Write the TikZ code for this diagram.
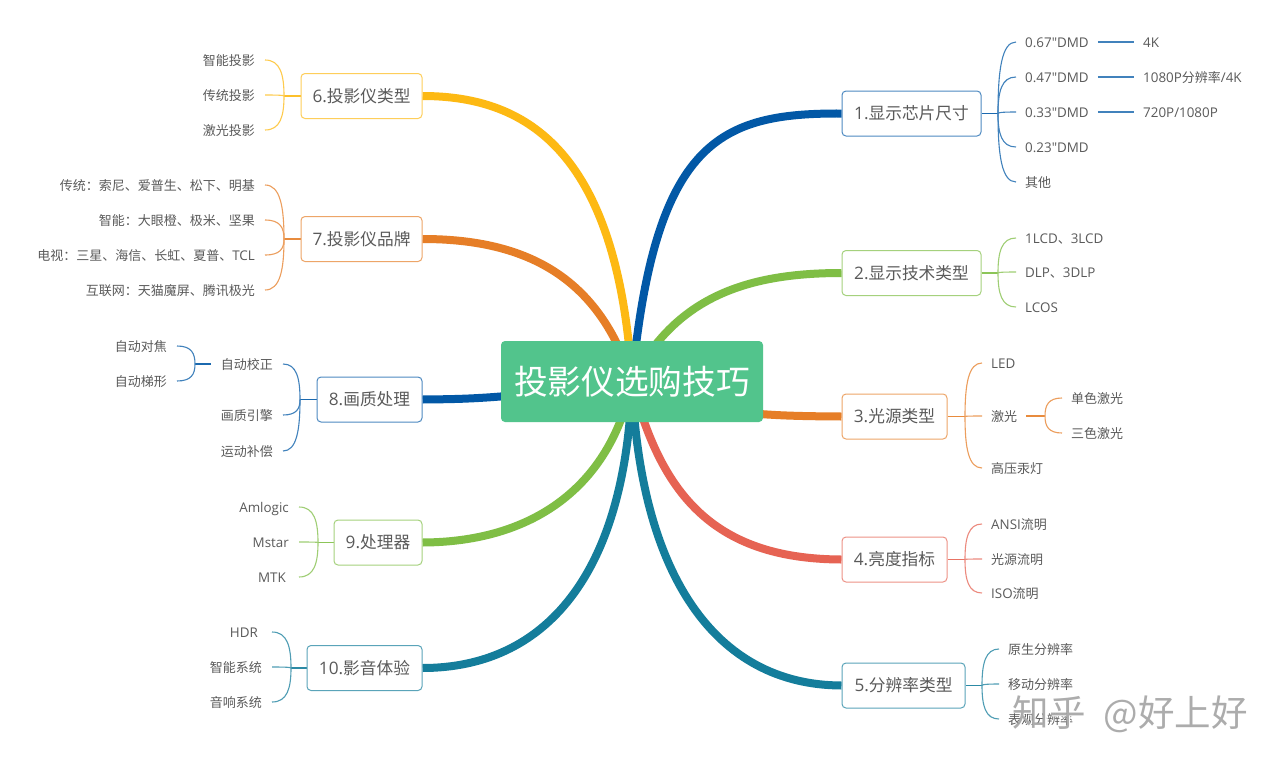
\documentclass[tikz,border=0pt]{standalone}
\usepackage{fontspec}
\setmainfont{Noto Sans CJK SC}
\newfontfamily\lat[Scale=1.03]{Open Sans}
\usetikzlibrary{calc,backgrounds}
\definecolor{cblue}{HTML}{0258A6}
\definecolor{cgreen}{HTML}{7FBE45}
\definecolor{corange}{HTML}{E67E27}
\definecolor{cred}{HTML}{E66353}
\definecolor{cteal}{HTML}{147D9B}
\definecolor{cyellow}{HTML}{FDB913}
\definecolor{cmain}{HTML}{52C48C}
\definecolor{ctext}{HTML}{5A5A5A}
\tikzset{
  x=1pt,y=-1pt,
  box/.style={draw=#1!70!white,fill=white,line width=1pt,rounded corners=4pt,minimum height=45pt,inner sep=0pt,
    text=ctext,font=\fontsize{16.7}{20}\selectfont},
  rleaf/.style={anchor=west,inner xsep=9pt,inner ysep=0pt,text height=12.4pt,text depth=1pt,text=ctext,font=\fontsize{13}{15}\selectfont},
  lleaf/.style={anchor=east,inner xsep=10pt,inner ysep=0pt,text height=12.4pt,text depth=1pt,text=ctext,font=\fontsize{13}{15}\selectfont},
  fk/.style={to path={.. controls ($(\tikztostart)!.6!(\tikztostart |- \tikztotarget)$) and ($(\tikztostart |- \tikztotarget)!.2!(\tikztotarget)$) .. (\tikztotarget)}},
  thin1/.style={draw=#1!75!white,line width=1.1pt},
  trunk/.style={draw=#1!90!white,line width=1.4pt},
  thick1/.style={draw=#1,line width=8pt},
}
\begin{document}
\begin{tikzpicture}
\useasboundingbox (0,0) rectangle (1280,763);
% centre
\node[fill=cmain,rounded corners=4pt,minimum width=262pt,minimum height=81pt,inner sep=0pt,text=white,font=\fontsize{33.7}{40}\selectfont] (c) at (632,381.5) {投影仪选购技巧};
% branch boxes
\node[box=cblue,minimum width=139pt] (b1) at (911.5,113.5) {{\lat 1.}显示芯片尺寸};
\node[box=cgreen,minimum width=139pt] (b2) at (911.5,273) {{\lat 2.}显示技术类型};
\node[box=corange,minimum width=105pt] (b3) at (894.5,416.5) {{\lat 3.}光源类型};
\node[box=cred,minimum width=105pt] (b4) at (894.5,559.5) {{\lat 4.}亮度指标};
\node[box=cteal,minimum width=123pt] (b5) at (903.5,685.5) {{\lat 5.}分辨率类型};
\node[box=cyellow,minimum width=121pt] (b6) at (361.5,96) {{\lat 6.}投影仪类型};
\node[box=corange,minimum width=121pt] (b7) at (361.5,239) {{\lat 7.}投影仪品牌};
\node[box=cblue,minimum width=105pt] (b8) at (369.5,399.5) {{\lat 8.}画质处理};
\node[box=cgreen,minimum width=88pt] (b9) at (378,542.5) {{\lat 9.}处理器};
\node[box=cteal,minimum width=115pt] (b10) at (364.5,668) {{\lat 10.}影音体验};
% forks
\coordinate (f1) at (998,113.5);
\coordinate (f2) at (998,273);
\coordinate (f3) at (965,416.5);
\coordinate (f3a) at (1045,416);
\coordinate (f4) at (965,559.5);
\coordinate (f5) at (982,685.5);
\coordinate (f6) at (284,96);
\coordinate (f7) at (284,239);
\coordinate (f8) at (300,399.5);
\coordinate (f8a) at (195,364);
\coordinate (f9) at (318,542.5);
\coordinate (f10) at (291,668);
% leaves 1
\node[rleaf] (l11) at (1016,42) {{\lat 0.67"DMD}};
\node[rleaf] (l12) at (1016,77) {{\lat 0.47"DMD}};
\node[rleaf] (l13) at (1016,112) {{\lat 0.33"DMD}};
\node[rleaf] (l14) at (1016,147) {{\lat 0.23"DMD}};
\node[rleaf] (l15) at (1016,182) {其他};
\node[rleaf] (s11) at (1134,42) {{\lat 4K}};
\node[rleaf] (s12) at (1134,77) {{\lat 1080P}分辨率{\lat /4K}};
\node[rleaf] (s13) at (1134,112) {{\lat 720P/1080P}};
% leaves 2
\node[rleaf] (l21) at (1016,238) {{\lat 1LCD}、{\lat 3LCD}};
\node[rleaf] (l22) at (1016,272) {{\lat DLP}、{\lat 3DLP}};
\node[rleaf] (l23) at (1016,307) {{\lat LCOS}};
% leaves 3
\node[rleaf] (l31) at (982,363) {{\lat LED}};
\node[rleaf] (l32) at (982,416) {激光};
\node[rleaf] (l33) at (982,468) {高压汞灯};
\node[rleaf] (s31) at (1062,398) {单色激光};
\node[rleaf] (s32) at (1062,433) {三色激光};
% leaves 4
\node[rleaf] (l41) at (982,524) {{\lat ANSI}流明};
\node[rleaf] (l42) at (982,559) {光源流明};
\node[rleaf] (l43) at (982,593) {{\lat ISO}流明};
% leaves 5
\node[rleaf] (l51) at (999,649) {原生分辨率};
\node[rleaf] (l52) at (999,684) {移动分辨率};
\node[rleaf] (l53) at (999,719) {表观分辨率};
% leaves 6
\node[lleaf] (l61) at (265,60) {智能投影};
\node[lleaf] (l62) at (265,95) {传统投影};
\node[lleaf] (l63) at (265,130) {激光投影};
% leaves 7
\node[lleaf] (l71) at (265,185) {传统：索尼、爱普生、松下、明基};
\node[lleaf] (l72) at (265,220) {智能：大眼橙、极米、坚果};
\node[lleaf] (l73) at (265,255) {电视：三星、海信、长虹、夏普、{\lat TCL}};
\node[lleaf] (l74) at (265,290) {互联网：天猫魔屏、腾讯极光};
% leaves 8
\node[lleaf] (l81) at (283,364) {自动校正};
\node[lleaf] (l82) at (283,415) {画质引擎};
\node[lleaf] (l83) at (283,451) {运动补偿};
\node[lleaf] (s81) at (177,346) {自动对焦};
\node[lleaf] (s82) at (177,381) {自动梯形};
% leaves 9
\node[lleaf] (l91) at (299,507) {{\lat Amlogic}};
\node[lleaf] (l92) at (299,542) {{\lat Mstar}};
\node[lleaf,inner xsep=13pt] (l93) at (299,577) {{\lat MTK}};
% leaves 10
\node[lleaf,inner xsep=14pt] (l101) at (272,632) {{\lat HDR}};
\node[lleaf] (l102) at (272,667) {智能系统};
\node[lleaf] (l103) at (272,702) {音响系统};
% watermark
\node[inner sep=0pt,text=white,font=\fontsize{36.5}{40}\selectfont,anchor=east] (wms) at (1249,715.5) {知乎\hspace{10pt} @好上好};
\node[inner sep=0pt,text=black!38,opacity=.85,font=\fontsize{36.5}{40}\selectfont,anchor=east] (wm) at (1248,714) {知乎\hspace{10pt} @好上好};
% connectors
\begin{scope}[on background layer]
\fill[white] (0,0) rectangle (1280,763);
\draw[thick1=cteal] (c.center) .. controls (626,575) and (545,668) .. (b10.east);
\draw[thick1=cteal] (c.center) .. controls (640,575) and (715,685) .. (b5.west);
\draw[thick1=cred] (c.center) .. controls (660,490) and (710,559) .. (b4.west);
\draw[thick1=cgreen] (c.center) .. controls (612,480) and (540,542) .. (b9.east);
\draw[thick1=cblue] (c.center) .. controls (500,399) and (470,399) .. (b8.east);
\draw[thick1=corange] (c.center) .. controls (700,414) and (760,416) .. (b3.west);
\draw[thick1=corange] (c.center) .. controls (600,280) and (530,239) .. (b7.east);
\draw[thick1=cyellow] (c.center) .. controls (618,155) and (530,96) .. (b6.east);
\draw[thick1=cblue] (c.center) .. controls (655,140) and (720,113) .. (b1.west);
\draw[thick1=cgreen] (c.center) .. controls (675,298) and (745,273) .. (b2.west);
% 1
\draw[trunk=cblue] (b1.east) -- (f1);
\foreach \n in {l11,l12,l13,l14,l15} \draw[thin1=cblue] (f1) to[fk] (\n.west);
\draw[thin1=cblue] (l11.east) -- (s11.west);
\draw[thin1=cblue] (l12.east) -- (s12.west);
\draw[thin1=cblue] (l13.east) -- (s13.west);
% 2
\draw[trunk=cgreen] (b2.east) -- (f2);
\foreach \n in {l21,l22,l23} \draw[thin1=cgreen] (f2) to[fk] (\n.west);
% 3
\draw[trunk=corange] (b3.east) -- (f3);
\foreach \n in {l31,l32,l33} \draw[thin1=corange] (f3) to[fk] (\n.west);
\draw[trunk=corange] (l32.east) -- (f3a);
\foreach \n in {s31,s32} \draw[thin1=corange] (f3a) to[fk] (\n.west);
% 4
\draw[trunk=cred] (b4.east) -- (f4);
\foreach \n in {l41,l42,l43} \draw[thin1=cred] (f4) to[fk] (\n.west);
% 5
\draw[trunk=cteal] (b5.east) -- (f5);
\foreach \n in {l51,l52,l53} \draw[thin1=cteal] (f5) to[fk] (\n.west);
% 6
\draw[trunk=cyellow] (b6.west) -- (f6);
\foreach \n in {l61,l62,l63} \draw[thin1=cyellow] (f6) to[fk] (\n.east);
% 7
\draw[trunk=corange] (b7.west) -- (f7);
\foreach \n in {l71,l72,l73,l74} \draw[thin1=corange] (f7) to[fk] (\n.east);
% 8
\draw[trunk=cblue] (b8.west) -- (f8);
\foreach \n in {l81,l82,l83} \draw[thin1=cblue] (f8) to[fk] (\n.east);
\draw[trunk=cblue] (l81.west) -- (f8a);
\foreach \n in {s81,s82} \draw[thin1=cblue] (f8a) to[fk] (\n.east);
% 9
\draw[trunk=cgreen] (b9.west) -- (f9);
\foreach \n in {l91,l92,l93} \draw[thin1=cgreen] (f9) to[fk] (\n.east);
% 10
\draw[trunk=cteal] (b10.west) -- (f10);
\foreach \n in {l101,l102,l103} \draw[thin1=cteal] (f10) to[fk] (\n.east);
\end{scope}
\end{tikzpicture}
\end{document}
